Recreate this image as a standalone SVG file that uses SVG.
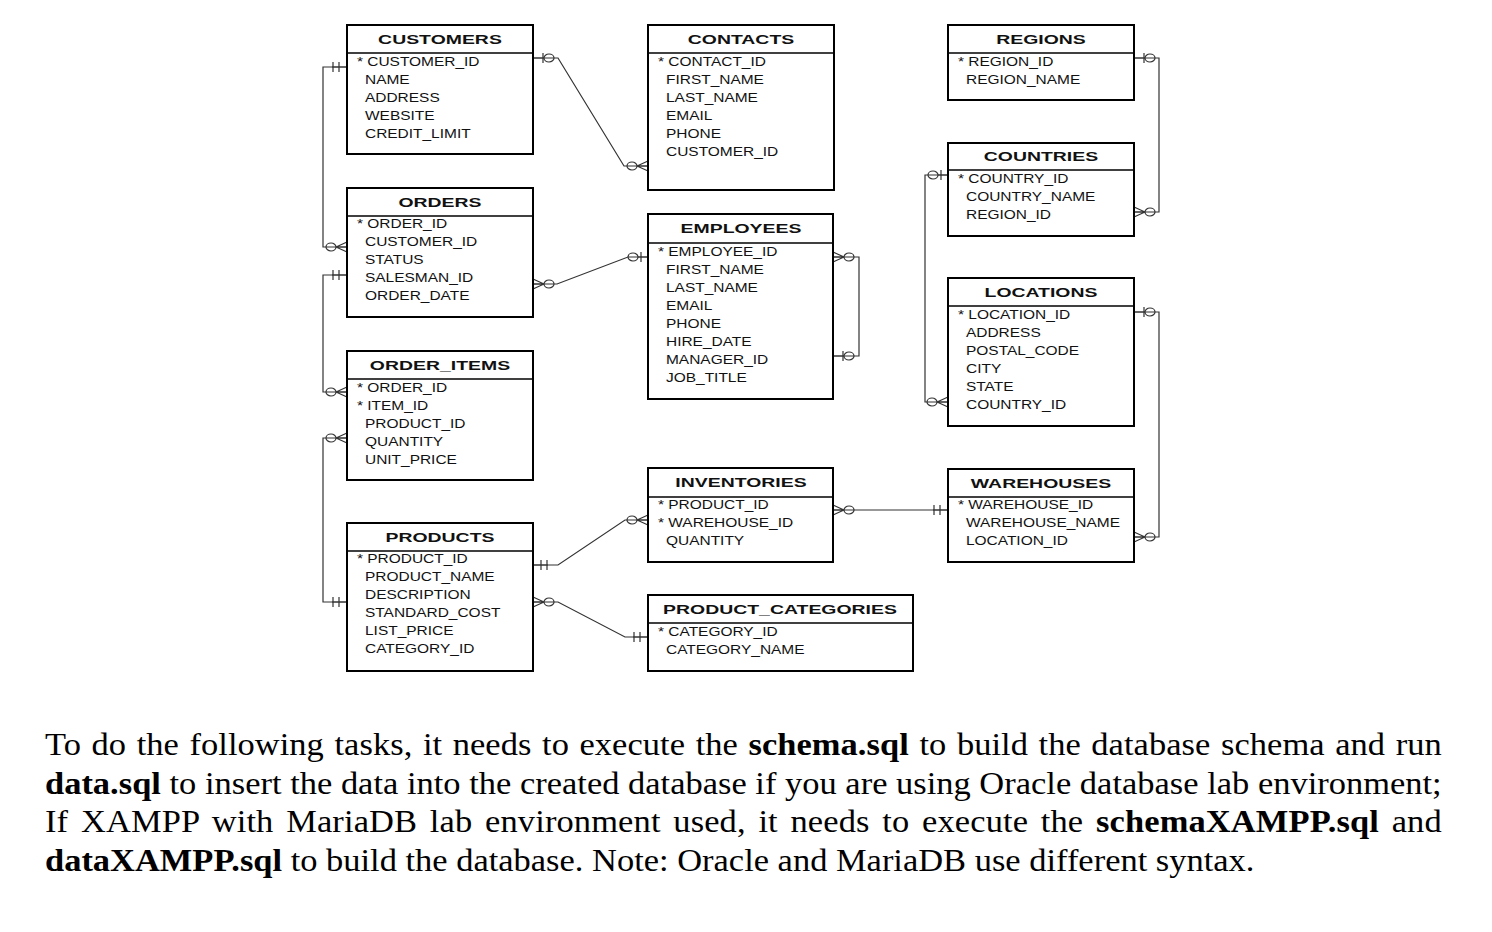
<svg xmlns="http://www.w3.org/2000/svg" xmlns:xlink="http://www.w3.org/1999/xlink" width="1492" height="932" viewBox="0 0 1492 932">
<style>
.box{fill:#fff;stroke:#000;stroke-width:2}
.hd{stroke:#000;stroke-width:1.5}
.f{font-family:"Liberation Sans",Arial,sans-serif;font-size:12px;fill:#111;transform-box:fill-box;transform-origin:0 50%;transform:scaleX(1.29)}
.t{font-family:"Liberation Sans",Arial,sans-serif;font-size:13.5px;font-weight:bold;fill:#111;text-anchor:middle;transform-box:fill-box;transform-origin:50% 50%;transform:scaleX(1.44)}
.c{fill:none;stroke:#333;stroke-width:1.2}
.p{font-family:"Liberation Serif","Times New Roman",serif;font-size:30.5px;fill:#000}
.b{font-weight:bold}
</style>
<defs>
<g id="crowO" class="c"><path d="M0,-5 L11,0 M0,0 H11 M0,5 L11,0"/><ellipse cx="16" cy="0" rx="5" ry="4"/></g>
<g id="barO" class="c"><path d="M10,-5 V5 M0,0 H11"/><ellipse cx="16" cy="0" rx="5" ry="4"/></g>
<g id="Obar" class="c"><path d="M7,-5 V5 M0,0 H10"/><ellipse cx="15" cy="0" rx="5" ry="4"/></g>
<g id="bars" class="c"><path d="M8,-5 V5 M14,-5 V5 M0,0 H15"/></g>
</defs>

<g id="connectors">
<path class="c" d="M533,58 H558 L624,166 H648"/>
<use xlink:href="#barO" transform="translate(533,58)"/>
<use xlink:href="#crowO" transform="translate(648,166) scale(-1,1)"/>

<path class="c" d="M347,67 H323 V247 H347"/>
<use xlink:href="#bars" transform="translate(347,67) scale(-1,1)"/>
<use xlink:href="#crowO" transform="translate(347,247) scale(-1,1)"/>

<path class="c" d="M347,275 H323 V392 H347"/>
<use xlink:href="#bars" transform="translate(347,275) scale(-1,1)"/>
<use xlink:href="#crowO" transform="translate(347,392) scale(-1,1)"/>

<path class="c" d="M347,438 H323 V602 H347"/>
<use xlink:href="#crowO" transform="translate(347,438) scale(-1,1)"/>
<use xlink:href="#bars" transform="translate(347,602) scale(-1,1)"/>

<path class="c" d="M533,284 H557 L628,257 H648"/>
<use xlink:href="#crowO" transform="translate(533,284)"/>
<use xlink:href="#Obar" transform="translate(648,257) scale(-1,1)"/>

<path class="c" d="M833,257 H859 V356 H833"/>
<use xlink:href="#crowO" transform="translate(833,257)"/>
<use xlink:href="#barO" transform="translate(833,356)"/>

<path class="c" d="M1134,58 H1159 V212 H1134"/>
<use xlink:href="#barO" transform="translate(1134,58)"/>
<use xlink:href="#crowO" transform="translate(1134,212)"/>

<path class="c" d="M948,175 H925 V402 H948"/>
<use xlink:href="#Obar" transform="translate(948,175) scale(-1,1)"/>
<use xlink:href="#crowO" transform="translate(948,402) scale(-1,1)"/>

<path class="c" d="M1134,312 H1159 V537 H1134"/>
<use xlink:href="#barO" transform="translate(1134,312)"/>
<use xlink:href="#crowO" transform="translate(1134,537)"/>

<path class="c" d="M833,510 H948"/>
<use xlink:href="#crowO" transform="translate(833,510)"/>
<use xlink:href="#bars" transform="translate(948,510) scale(-1,1)"/>

<path class="c" d="M533,565 H558 L625,520 H648"/>
<use xlink:href="#bars" transform="translate(533,565)"/>
<use xlink:href="#crowO" transform="translate(648,520) scale(-1,1)"/>

<path class="c" d="M533,602 H558 L625,637 H648"/>
<use xlink:href="#crowO" transform="translate(533,602)"/>
<use xlink:href="#bars" transform="translate(648,637) scale(-1,1)"/>
</g>

<g id="customers">
<rect class="box" x="347" y="25" width="186" height="129"/>
<line class="hd" x1="347" y1="53" x2="533" y2="53"/>
<text class="t" x="440" y="44">CUSTOMERS</text>
<text class="f" x="357" y="66">* CUSTOMER_ID</text>
<text class="f" x="365" y="84">NAME</text>
<text class="f" x="365" y="102">ADDRESS</text>
<text class="f" x="365" y="120">WEBSITE</text>
<text class="f" x="365" y="138">CREDIT_LIMIT</text>
</g>

<g id="contacts">
<rect class="box" x="648" y="25" width="186" height="165"/>
<line class="hd" x1="648" y1="53" x2="834" y2="53"/>
<text class="t" x="741" y="44">CONTACTS</text>
<text class="f" x="658" y="66">* CONTACT_ID</text>
<text class="f" x="666" y="84">FIRST_NAME</text>
<text class="f" x="666" y="102">LAST_NAME</text>
<text class="f" x="666" y="120">EMAIL</text>
<text class="f" x="666" y="138">PHONE</text>
<text class="f" x="666" y="156">CUSTOMER_ID</text>
</g>

<g id="regions">
<rect class="box" x="948" y="25" width="186" height="75"/>
<line class="hd" x1="948" y1="53" x2="1134" y2="53"/>
<text class="t" x="1041" y="44">REGIONS</text>
<text class="f" x="958" y="66">* REGION_ID</text>
<text class="f" x="966" y="84">REGION_NAME</text>
</g>

<g id="countries">
<rect class="box" x="948" y="143" width="186" height="93"/>
<line class="hd" x1="948" y1="170" x2="1134" y2="170"/>
<text class="t" x="1041" y="161">COUNTRIES</text>
<text class="f" x="958" y="183">* COUNTRY_ID</text>
<text class="f" x="966" y="201">COUNTRY_NAME</text>
<text class="f" x="966" y="219">REGION_ID</text>
</g>

<g id="locations">
<rect class="box" x="948" y="278" width="186" height="148"/>
<line class="hd" x1="948" y1="306" x2="1134" y2="306"/>
<text class="t" x="1041" y="297">LOCATIONS</text>
<text class="f" x="958" y="319">* LOCATION_ID</text>
<text class="f" x="966" y="337">ADDRESS</text>
<text class="f" x="966" y="355">POSTAL_CODE</text>
<text class="f" x="966" y="373">CITY</text>
<text class="f" x="966" y="391">STATE</text>
<text class="f" x="966" y="409">COUNTRY_ID</text>
</g>

<g id="warehouses">
<rect class="box" x="948" y="469" width="186" height="93"/>
<line class="hd" x1="948" y1="497" x2="1134" y2="497"/>
<text class="t" x="1041" y="488">WAREHOUSES</text>
<text class="f" x="958" y="509">* WAREHOUSE_ID</text>
<text class="f" x="966" y="527">WAREHOUSE_NAME</text>
<text class="f" x="966" y="545">LOCATION_ID</text>
</g>

<g id="orders">
<rect class="box" x="347" y="188" width="186" height="129"/>
<line class="hd" x1="347" y1="216" x2="533" y2="216"/>
<text class="t" x="440" y="207">ORDERS</text>
<text class="f" x="357" y="228">* ORDER_ID</text>
<text class="f" x="365" y="246">CUSTOMER_ID</text>
<text class="f" x="365" y="264">STATUS</text>
<text class="f" x="365" y="282">SALESMAN_ID</text>
<text class="f" x="365" y="300">ORDER_DATE</text>
</g>

<g id="order_items">
<rect class="box" x="347" y="351" width="186" height="129"/>
<line class="hd" x1="347" y1="379" x2="533" y2="379"/>
<text class="t" x="440" y="370">ORDER_ITEMS</text>
<text class="f" x="357" y="392">* ORDER_ID</text>
<text class="f" x="357" y="410">* ITEM_ID</text>
<text class="f" x="365" y="428">PRODUCT_ID</text>
<text class="f" x="365" y="446">QUANTITY</text>
<text class="f" x="365" y="464">UNIT_PRICE</text>
</g>

<g id="products">
<rect class="box" x="347" y="523" width="186" height="148"/>
<line class="hd" x1="347" y1="551" x2="533" y2="551"/>
<text class="t" x="440" y="542">PRODUCTS</text>
<text class="f" x="357" y="563">* PRODUCT_ID</text>
<text class="f" x="365" y="581">PRODUCT_NAME</text>
<text class="f" x="365" y="599">DESCRIPTION</text>
<text class="f" x="365" y="617">STANDARD_COST</text>
<text class="f" x="365" y="635">LIST_PRICE</text>
<text class="f" x="365" y="653">CATEGORY_ID</text>
</g>

<g id="employees">
<rect class="box" x="648" y="214" width="185" height="185"/>
<line class="hd" x1="648" y1="243" x2="833" y2="243"/>
<text class="t" x="741" y="233">EMPLOYEES</text>
<text class="f" x="658" y="256">* EMPLOYEE_ID</text>
<text class="f" x="666" y="274">FIRST_NAME</text>
<text class="f" x="666" y="292">LAST_NAME</text>
<text class="f" x="666" y="310">EMAIL</text>
<text class="f" x="666" y="328">PHONE</text>
<text class="f" x="666" y="346">HIRE_DATE</text>
<text class="f" x="666" y="364">MANAGER_ID</text>
<text class="f" x="666" y="382">JOB_TITLE</text>
</g>

<g id="inventories">
<rect class="box" x="648" y="468" width="185" height="94"/>
<line class="hd" x1="648" y1="497" x2="833" y2="497"/>
<text class="t" x="741" y="487">INVENTORIES</text>
<text class="f" x="658" y="509">* PRODUCT_ID</text>
<text class="f" x="658" y="527">* WAREHOUSE_ID</text>
<text class="f" x="666" y="545">QUANTITY</text>
</g>

<g id="product_categories">
<rect class="box" x="648" y="595" width="265" height="76"/>
<line class="hd" x1="648" y1="623" x2="913" y2="623"/>
<text class="t" x="780" y="614">PRODUCT_CATEGORIES</text>
<text class="f" x="658" y="636">* CATEGORY_ID</text>
<text class="f" x="666" y="654">CATEGORY_NAME</text>
</g>

<g id="paragraph" transform="translate(45,0) scale(1.13,1)">
<text class="p" x="0" y="755" word-spacing="1.7" textLength="1236" lengthAdjust="spacing">To do the following tasks, it needs to execute the <tspan class="b">schema.sql</tspan> to build the database schema and run</text>
<text class="p" x="0" y="794" textLength="1236" lengthAdjust="spacing"><tspan class="b">data.sql</tspan> to insert the data into the created database if you are using Oracle database lab environment;</text>
<text class="p" x="0" y="832" word-spacing="3.5" textLength="1236" lengthAdjust="spacing">If XAMPP with MariaDB lab environment used, it needs to execute the <tspan class="b">schemaXAMPP.sql</tspan> and</text>
<text class="p" x="0" y="871"><tspan class="b">dataXAMPP.sql</tspan> to build the database. Note: Oracle and MariaDB use different syntax.</text>
</g>
</svg>
